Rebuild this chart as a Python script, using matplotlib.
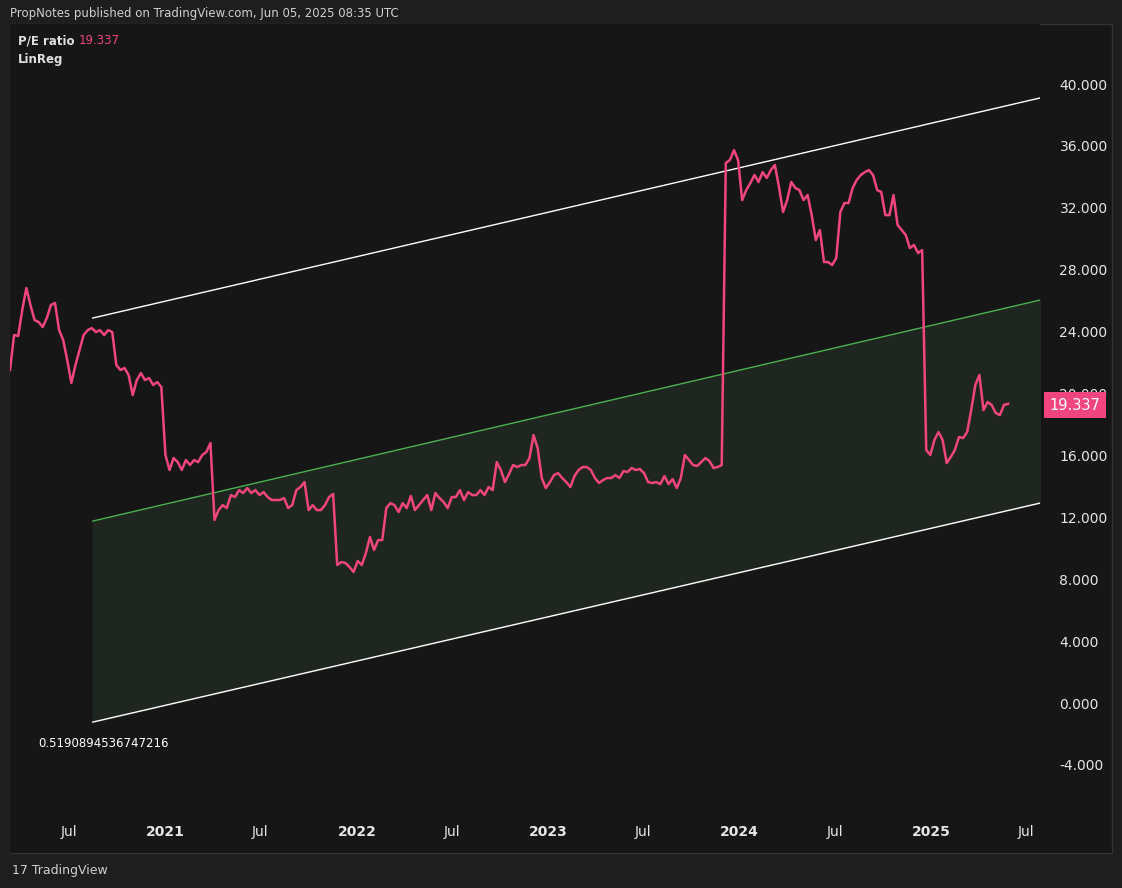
import numpy as np, pandas as pd
import matplotlib
matplotlib.use("Agg")
import matplotlib.pyplot as plt
from matplotlib.patches import Rectangle

pe = [21.52,23.78,23.72,25.40,26.82,25.72,24.75,24.62,24.30,24.88,25.72,25.85,24.10,23.46,22.16,20.68,21.84,22.81,23.78,24.10,24.23,23.97,24.10,23.78,24.10,23.97,21.84,21.52,21.65,21.20,19.90,20.87,21.32,20.87,21.00,20.55,20.74,20.42,16.03,15.06,15.83,15.57,15.06,15.70,15.38,15.70,15.57,16.03,16.22,16.80,11.83,12.47,12.79,12.60,13.44,13.31,13.76,13.57,13.89,13.57,13.76,13.44,13.63,13.31,13.12,13.12,13.12,13.25,12.60,12.79,13.76,13.96,14.28,12.47,12.79,12.47,12.47,12.79,13.31,13.51,8.92,9.11,9.05,8.79,8.47,9.18,8.92,9.69,10.73,9.89,10.53,10.53,12.60,12.92,12.79,12.34,12.92,12.60,13.38,12.47,12.79,13.12,13.44,12.47,13.57,13.25,12.99,12.60,13.31,13.31,13.76,13.12,13.63,13.44,13.44,13.76,13.44,13.96,13.76,15.57,15.06,14.28,14.80,15.38,15.25,15.38,15.38,15.83,17.32,16.48,14.54,13.89,14.28,14.73,14.86,14.54,14.28,13.96,14.67,15.06,15.25,15.25,15.06,14.54,14.22,14.41,14.54,14.54,14.73,14.54,14.99,14.93,15.19,15.06,15.12,14.86,14.28,14.22,14.28,14.15,14.67,14.15,14.47,13.89,14.54,16.03,15.70,15.38,15.32,15.57,15.83,15.64,15.19,15.25,15.38,34.90,35.09,35.73,35.09,32.50,33.15,33.60,34.12,33.67,34.31,33.93,34.44,34.77,33.34,31.73,32.50,33.67,33.28,33.15,32.50,32.83,31.53,29.92,30.56,28.50,28.50,28.30,28.76,31.73,32.31,32.31,33.28,33.80,34.12,34.31,34.44,34.12,33.15,33.02,31.53,31.53,32.83,30.89,30.56,30.24,29.40,29.60,29.08,29.27,16.35,16.03,17.00,17.51,17.00,15.51,15.90,16.35,17.19,17.12,17.51,18.93,20.55,21.20,18.93,19.45,19.26,18.74,18.61,19.26,19.337]
start_date, end_date = "2020-03-10", "2025-05-28"
dates = pd.date_range(start_date, end_date, periods=len(pe))

reg_dates = ["2020-08-15", "2025-07-28"]
reg_upper = [24.88, 39.1]
reg_mid = [11.76, 26.04]
reg_lower = [-1.23, 12.92]
yticks = list(range(-4, 41, 4))

BG = "#161616"
fig = plt.figure(figsize=(11.22, 8.88), dpi=100, facecolor="#1e1e1e")
W, H = 1122, 888
ax = fig.add_axes([10/W, (H-853)/H, (1040-10)/W, (853-24)/H])
ax.set_facecolor(BG)
fig.patches.append(Rectangle((10/W, (H-853)/H), (1112-10)/W, (853-24)/H, transform=fig.transFigure,
                             facecolor=BG, edgecolor="#333333", lw=1, zorder=-1))
for s in ax.spines.values(): s.set_visible(False)

rd = pd.to_datetime(reg_dates)
ax.fill_between(rd, reg_lower, reg_mid, color="#1f261f", zorder=1)
ax.plot(rd, reg_upper, color="white", lw=1, zorder=2)
ax.plot(rd, reg_lower, color="white", lw=1, zorder=2)
ax.plot(rd, reg_mid, color="#4caf50", lw=1, zorder=2)
ax.plot(dates, pe, color="#f0457e", lw=1.8, zorder=3)

ax.set_xlim(pd.Timestamp("2020-03-10"), pd.Timestamp("2025-07-28"))
ax.set_ylim(-9.69, 43.88)
ax.yaxis.tick_right()
ax.set_yticks(yticks)
ax.set_yticklabels([f"{v:.3f}" for v in yticks])
ax.tick_params(axis="y", length=0, pad=14, labelcolor="#e6e6e6", labelsize=10)
xt = ["2020-07-01","2021-01-01","2021-07-01","2022-01-01","2022-07-01","2023-01-01","2023-07-01","2024-01-01","2024-07-01","2025-01-01","2025-07-01"]
ax.set_xticks(pd.to_datetime(xt))
labs = ["Jul" if t.endswith("07-01") else t[:4] for t in xt]
ax.set_xticklabels(labs)
for lab, t in zip(ax.get_xticklabels(), labs):
    if t != "Jul": lab.set_fontweight("bold")
ax.tick_params(axis="x", length=0, pad=-20, labelcolor="#e6e6e6", labelsize=10)

fig.text(1075/W, (H-405)/H, f"{pe[-1]:.3f}", color="white", fontsize=10.5, ha="center", va="center",
         zorder=10, bbox=dict(boxstyle="square,pad=0.35", fc="#f0457e", ec="none"))
fig.text(38/W, (H-743)/H, "0.5190894536747216", color="white", fontsize=8.5, va="center")
fig.text(18/W, (H-41)/H, "P/E ratio", color="#e0e0e0", fontsize=8.5, fontweight="bold", va="center")
fig.text(79/W, (H-41)/H, "19.337", color="#f0457e", fontsize=8.5, va="center")
fig.text(18/W, (H-59)/H, "LinReg", color="#e0e0e0", fontsize=8.5, fontweight="bold", va="center")
fig.text(10/W, (H-13)/H, "PropNotes published on TradingView.com, Jun 05, 2025 08:35 UTC", color="#d0d0d0", fontsize=8.5, va="center")
fig.text(12/W, (H-870)/H, "17 TradingView", color="#d0d0d0", fontsize=9, va="center")
fig.savefig("out.png", facecolor=fig.get_facecolor())
